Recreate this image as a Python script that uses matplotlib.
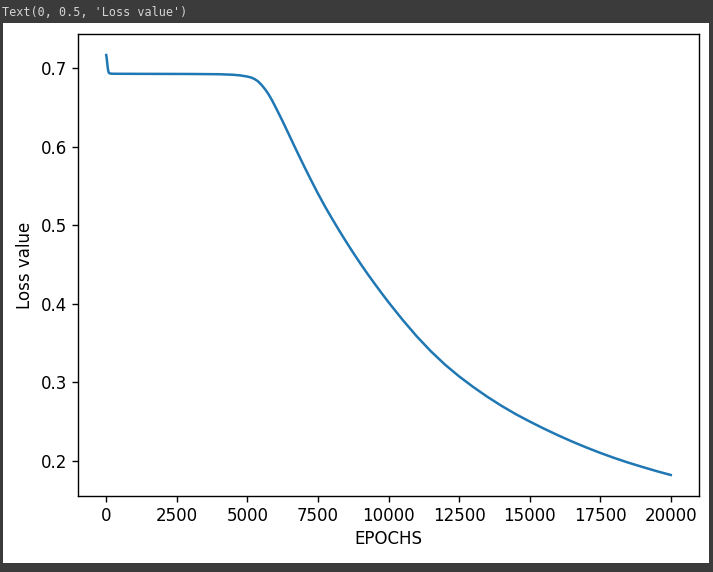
import numpy as np
import matplotlib
matplotlib.use("Agg")
import matplotlib.pyplot as plt
from matplotlib.patches import Rectangle

# loss curve
epochs = [0, 20, 40, 60, 80, 100, 150, 250, 1000, 2000, 3000, 4000, 4500,
          4750, 5000, 5125, 5250, 5375, 5500, 5625, 5750, 5875, 6000, 6250,
          6500, 6750, 7000, 7250, 7500, 7750, 8000, 8250, 8500, 8750, 9000,
          9250, 9500, 9750, 10000, 10500, 11000, 11500, 12000, 12500, 13000,
          13500, 14000, 14500, 15000, 15500, 16000, 16500, 17000, 17500,
          18000, 18500, 19000, 19500, 20000]
loss = [0.717, 0.712, 0.705, 0.699, 0.6955, 0.6940, 0.6933, 0.6931,
        0.6930, 0.6929, 0.6928, 0.6925, 0.6918, 0.6910, 0.6895, 0.6884,
        0.6865, 0.6835, 0.6790, 0.6735, 0.6670, 0.6592, 0.6505, 0.6325,
        0.6135, 0.5945, 0.5760, 0.5580, 0.5405, 0.5240, 0.5085, 0.4935,
        0.4790, 0.4650, 0.4515, 0.4385, 0.4260, 0.4138, 0.4020, 0.3795,
        0.3585, 0.3395, 0.3225, 0.3075, 0.2940, 0.2815, 0.2700, 0.2595,
        0.2500, 0.2410, 0.2325, 0.2245, 0.2170, 0.2100, 0.2035, 0.1975,
        0.1920, 0.1867, 0.1818]

W, H = 713, 572
DARK = "#3b3b3b"
fig = plt.figure(figsize=(W / 100, H / 100), dpi=100, facecolor=DARK)

# notebook cell output: header line + white image area
fig.text(2 / W, 1 - 12 / H, "Text(0, 0.5, 'Loss value')", color="#d4d4d4",
         family="DejaVu Sans Mono", fontsize=8.5, va="center", ha="left")
fig.patches.append(Rectangle((3 / W, 9 / H), 706 / W, 540 / H,
                             transform=fig.transFigure, fc="white", ec="none",
                             zorder=-10))

ax = fig.add_axes([78 / W, 76 / H, 621 / W, 462 / H])
ax.plot(epochs, loss, color="#1f77b4", lw=1.8)
ax.set_xticks(np.arange(0, 20001, 2500))
ax.set_yticks([0.2, 0.3, 0.4, 0.5, 0.6, 0.7])
ax.tick_params(labelsize=12, length=4.2, width=1.0)
for s in ax.spines.values():
    s.set_linewidth(1.0)
ax.set_xlabel("EPOCHS", fontsize=12, labelpad=4)
ax.set_ylabel("Loss value", fontsize=12, labelpad=5)

fig.savefig("out.png", dpi=100, facecolor=DARK)
